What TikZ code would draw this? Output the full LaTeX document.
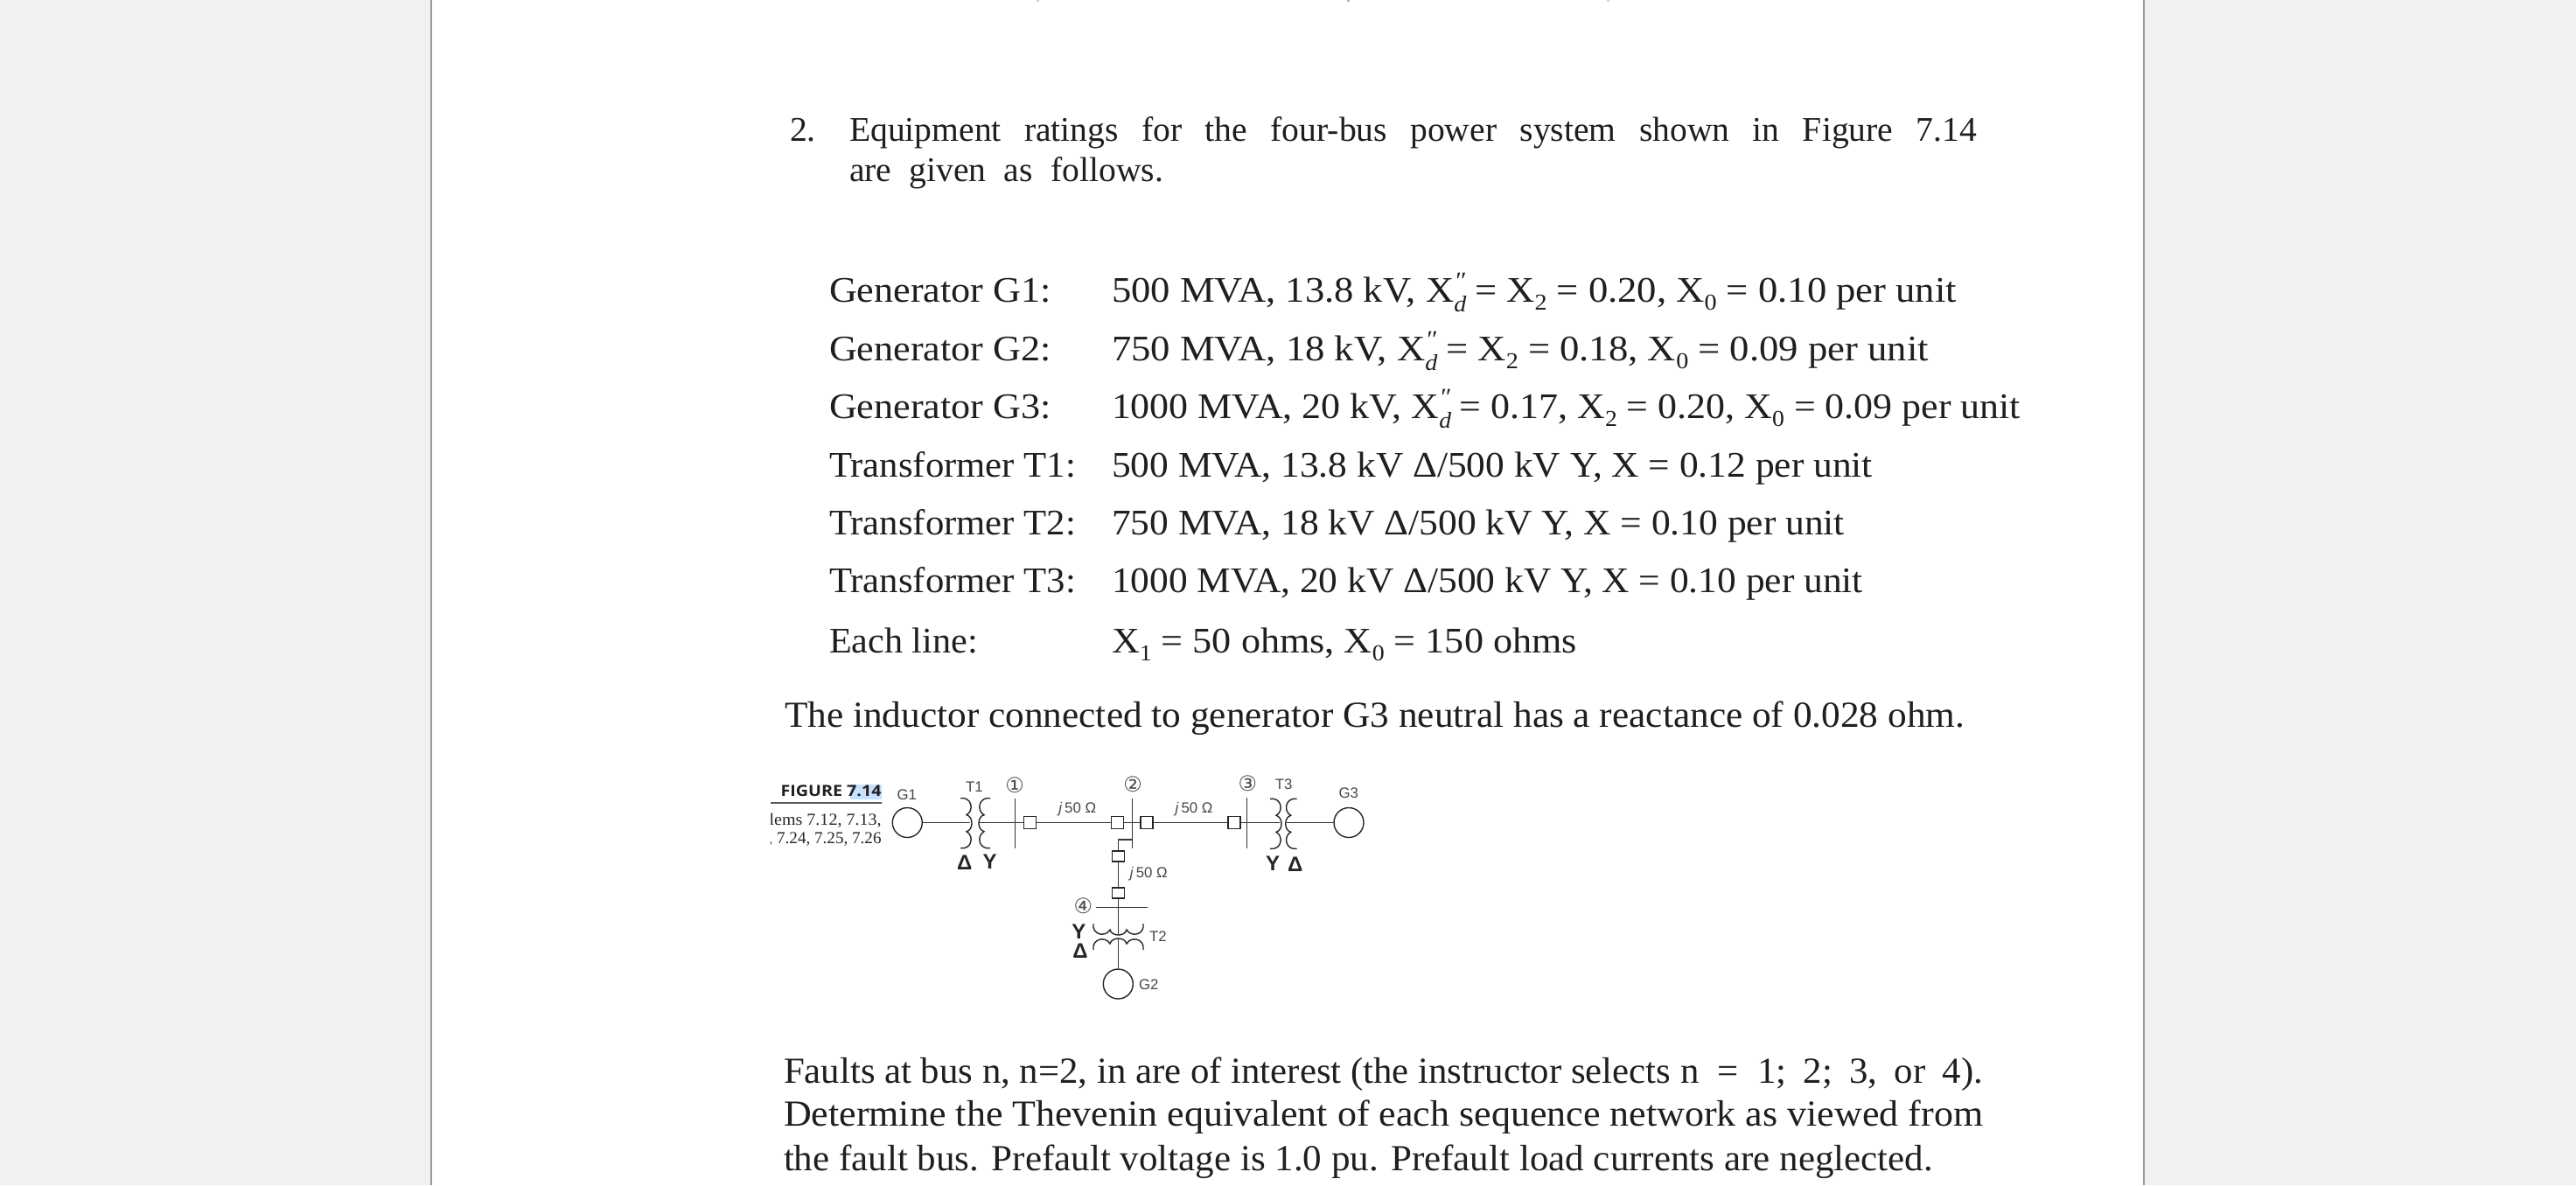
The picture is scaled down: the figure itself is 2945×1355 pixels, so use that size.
\documentclass[tikz,border=0pt]{standalone}
\usepackage{fontspec}
\usepackage{graphicx}
\setmainfont{Liberation Serif}
\newfontfamily\lsans{Liberation Sans}
\newfontfamily\djv{DejaVu Sans}
\newfontfamily\capfont{Open Sans}
\usetikzlibrary{positioning}
\newcommand{\fs}[1]{\fontsize{#1}{#1}\selectfont}
\newcommand{\Xdd}{X\rlap{\raisebox{-0.28em}{\fs{13}\itshape d}}\raisebox{0.36em}{\fs{14}\itshape\char"2033}}
\newcommand{\Xs}[1]{X\raisebox{-0.22em}{\fs{13}#1}}
\newcommand{\fitw}[2]{\resizebox{#1}{\height}{#2}}
\tikzset{
  x=0.5pt,y=-0.5pt,
  txt/.style={anchor=base west,inner sep=0pt,outer sep=0pt,font=\fs{20.6},text=black!88},
  bigtxt/.style={txt,font=\fs{21}},
  headtxt/.style={txt,font=\fs{19.8}},
  lab/.style={inner sep=0pt,font=\lsans\fs{8.4},text=black!72},
  bubble/.style={inner sep=0pt,font=\djv\fs{12},text=black!70},
  sym/.style={inner sep=0pt,font=\lsans\bfseries\fs{12},text=black!85},
  gen/.style={circle,draw=black!85,line width=0.7pt,minimum size=17pt,inner sep=0pt},
  breaker/.style={rectangle,draw=black!85,line width=0.8pt,minimum width=7pt,minimum height=7pt,inner sep=0pt},
  breakerv/.style={breaker,minimum height=6pt},
  wire/.style={draw=black!78,line width=0.7pt},
  busbar/.style={draw=black!80,line width=0.7pt},
  coilline/.style={draw=black!85,line width=0.7pt},
  pics/coil/.style={code={
    \draw[coilline] (-7,0) .. controls (6,-2) and (9,14) .. (0,19)
      .. controls (8,21) and (8,36) .. (0,38)
      .. controls (9,43) and (6,59) .. (-7,57);}},
}
\begin{document}
\begin{tikzpicture}
\useasboundingbox (0,0) rectangle (2945,1355);
\fill[black!5.5] (0,0) rectangle (2945,1355);
\fill[white] (493,0) rectangle (2451,1355);
\draw[black!40,line width=0.6pt] (493,0) -- (493,1355);
\draw[black!40,line width=0.6pt] (2451,0) -- (2451,1355);
\fill[black!20] (1185,0) rectangle (1188,2);
\fill[black!30] (1540,0) rectangle (1543,2);
\fill[black!18] (1837,0) rectangle (1840,2);

% text
\node[headtxt] (n2) at (903,161) {2.};
\node[headtxt] (l1) at (971,161) {\makebox[644.5pt][s]{Equipment ratings for the four-bus power system shown in Figure 7.14}};
\node[headtxt] (l2) at (971,207) {\makebox[179.5pt][s]{are given as follows.}};
\node[txt] (a1) at (948,345) {\fitw{127pt}{Generator G1:}};
\node[txt] (a2) at (948,412) {\fitw{127pt}{Generator G2:}};
\node[txt] (a3) at (948,478) {\fitw{127pt}{Generator G3:}};
\node[txt] (a4) at (948,545) {\fitw{141pt}{Transformer T1:}};
\node[txt] (a5) at (948,611) {\fitw{141pt}{Transformer T2:}};
\node[txt] (a6) at (948,677) {\fitw{141pt}{Transformer T3:}};
\node[txt] (a7) at (948,746) {\fitw{85pt}{Each line:}};
\node[txt] (b1) at (1271,345) {\fitw{483pt}{500 MVA, 13.8 kV, \Xdd{} = \Xs{2} = 0.20, \Xs{0} = 0.10 per unit}};
\node[txt] (b2) at (1271,412) {\fitw{467pt}{750 MVA, 18 kV, \Xdd{} = \Xs{2} = 0.18, \Xs{0} = 0.09 per unit}};
\node[txt] (b3) at (1271,478) {\fitw{519.5pt}{1000 MVA, 20 kV, \Xdd{} = 0.17, \Xs{2} = 0.20, \Xs{0} = 0.09 per unit}};
\node[txt] (b4) at (1271,545) {\fitw{435pt}{500 MVA, 13.8 kV Δ/500 kV Y, X = 0.12 per unit}};
\node[txt] (b5) at (1271,611) {\fitw{419pt}{750 MVA, 18 kV Δ/500 kV Y, X = 0.10 per unit}};
\node[txt] (b6) at (1271,677) {\fitw{429.5pt}{1000 MVA, 20 kV Δ/500 kV Y, X = 0.10 per unit}};
\node[txt] (b7) at (1271,746) {\fitw{266pt}{\Xs{1} = 50 ohms, \Xs{0} = 150 ohms}};
\node[bigtxt] (ind) at (897,831) {\fitw{674.5pt}{The inductor connected to generator G3 neutral has a reactance of 0.028 ohm.}};
\node[bigtxt] (f1) at (896,1238) {\fitw{685.5pt}{Faults at bus n, n=2, in are of interest (the instructor selects n\hspace{.25em} =\hspace{.25em} 1;\hspace{.2em} 2;\hspace{.2em} 3,\hspace{.2em} or\hspace{.2em} 4).}};
\node[bigtxt] (f2) at (896,1287) {\fitw{685.5pt}{Determine the Thevenin equivalent of each sequence network as viewed from}};
\node[bigtxt] (f3) at (896,1338) {\fitw{657pt}{the fault bus. Prefault voltage is 1.0 pu. Prefault load currents are neglected.}};

% caption
\fill[blue!55!cyan!22] (972,897) rectangle (1008,914);
\node[anchor=base east,inner sep=0pt,font=\capfont\bfseries\fs{8.8},text=black!88] (figcap) at (1008,910) {\resizebox{57.5pt}{\height}{FIGURE 7.14}};
\draw[black!65,line width=1pt] (881,917.5) -- (1008,917.5);
\begin{scope}
\clip (881,925) rectangle (1012,975);
\node[anchor=base east,inner sep=0pt,font=\fs{9.6},text=black!85] (cap1) at (1008,943) {\resizebox{69pt}{\height}{blems 7.12, 7.13,}};
\node[anchor=base east,inner sep=0pt,font=\fs{9.6},text=black!85] (cap2) at (1008,964) {\resizebox{64.5pt}{\height}{, 7.24, 7.25, 7.26}};
\end{scope}

% generators
\node[gen] (G1) at (1037.3,940.5) {};
\node[gen] (G3) at (1542,940.5) {};
\node[gen] (G2) at (1278.3,1125) {};
% breakers
\node[breaker] (q1) at (1177.5,940.5) {};
\node[breaker] (q2) at (1277.5,940.5) {};
\node[breaker] (q3) at (1311,940.5) {};
\node[breaker] (q4) at (1411,940.5) {};
\node[breakerv] (q5) at (1278.3,979) {};
\node[breakerv] (q6) at (1278.3,1021) {};
% coordinates
\coordinate (t1a) at (1109,940.5);
\coordinate (t1b) at (1120,940.5);
\coordinate (t3a) at (1463,940.5);
\coordinate (t3b) at (1471,940.5);
\coordinate (b1t) at (1160.4,912.5); \coordinate (b1b) at (1160.4,970);
\coordinate (b2t) at (1294.7,912.5); \coordinate (b2b) at (1294.7,970);
\coordinate (b2k) at (1294.7,960); \coordinate (b2c) at (1278.3,960);
\coordinate (b3t) at (1425.7,912); \coordinate (b3b) at (1425.7,970);
\coordinate (b4l) at (1253,1037.7); \coordinate (b4r) at (1311.7,1037.7);
\coordinate (t2a) at (1278.3,1068);
\coordinate (t2b) at (1278.3,1074);
% buses
\draw[busbar] (b1t) -- (b1b);
\draw[busbar] (b2t) -- (b2b);
\draw[busbar] (b3t) -- (b3b);
\draw[busbar] (b4l) -- (b4r);
% coils
\pic at (1105,912.7) {coil};
\pic[xscale=-1] at (1125,912.7) {coil};
\pic at (1459,913.3) {coil};
\pic[xscale=-1] at (1475.7,913.3) {coil};
\pic[rotate=90,xscale=-1] at (1250,1063) {coil};
\pic[rotate=90] at (1250,1079) {coil};
% wires
\draw[wire] (G1) -- (t1a);
\draw[wire] (t1b) -- (q1);
\draw[wire] (q1) -- (q2);
\draw[wire] (q2) -- (q3);
\draw[wire] (q3) -- (q4);
\draw[wire] (q4) -- (t3a);
\draw[wire] (t3b) -- (G3);
\draw[wire] (b2k) -- (b2c) -- (q5);
\draw[wire] (q5) -- (q6);
\draw[wire] (q6) -- (t2a);
\draw[wire] (t2b) -- (G2);
% labels
\node[lab] (lG1) at (1036.7,909) {G1};
\node[lab] (lT1) at (1114,899.3) {T1};
\node[lab] (lT3) at (1467.7,897) {T3};
\node[lab] (lG3) at (1541.7,906.7) {G3};
\node[lab] (lT2) at (1324,1070.7) {T2};
\node[lab] (lG2) at (1313.3,1125.7) {G2};
\node[bubble] (c1) at (1160,897.3) {①};
\node[bubble] (c2) at (1295,896.7) {②};
\node[bubble] (c3) at (1426.3,896) {③};
\node[bubble] (c4) at (1238.3,1036) {④};
\node[lab] (j1) at (1231.7,925) {\textit{j}\,50 Ω};
\node[lab] (j2) at (1365,925) {\textit{j}\,50 Ω};
\node[lab] (j3) at (1313.3,999.3) {\textit{j}\,50 Ω};
\node[sym] (d1) at (1102.7,986.7) {Δ};
\node[sym] (y1) at (1131.7,985.7) {Y};
\node[sym] (y3) at (1455,987.7) {Y};
\node[sym] (d3) at (1480.7,988.3) {Δ};
\node[sym] (y2) at (1233.3,1065) {Y};
\node[sym] (d2) at (1235,1087.3) {Δ};
\end{tikzpicture}
\end{document}
